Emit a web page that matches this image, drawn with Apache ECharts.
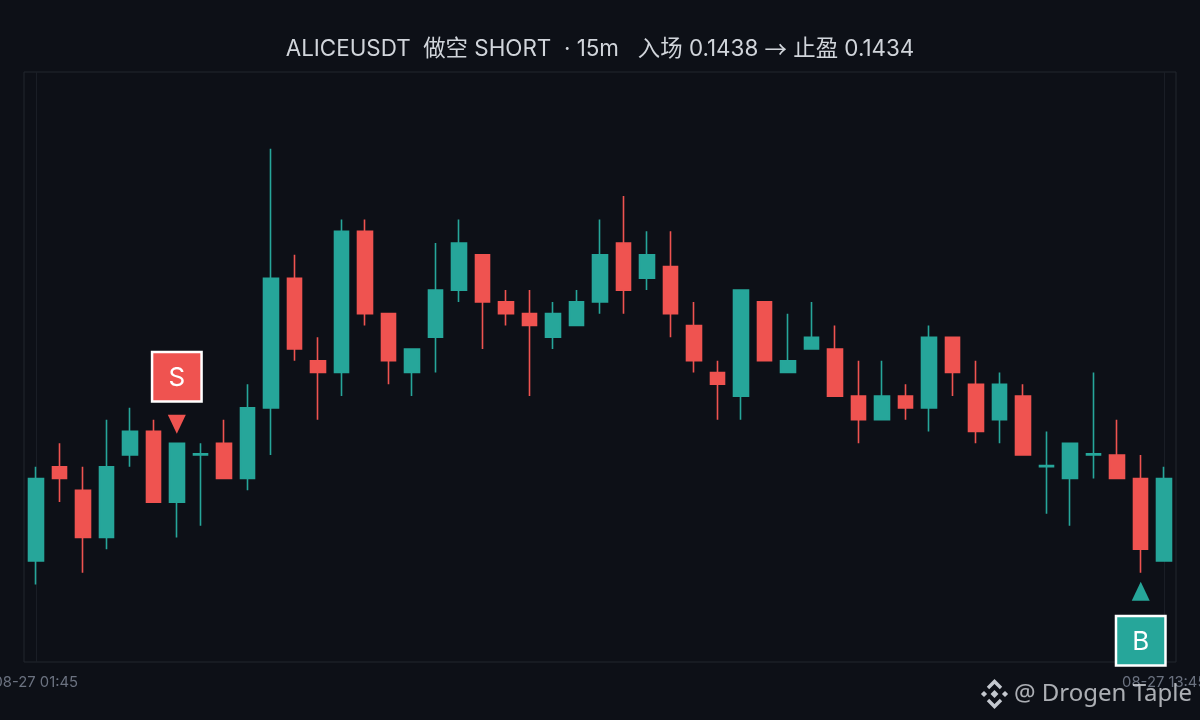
<!DOCTYPE html>
<html><head><meta charset="utf-8">
<style>html,body{margin:0;padding:0;background:#0d1017}#c{width:1200px;height:720px}</style>
<script src="https://cdn.jsdelivr.net/npm/echarts@6/dist/echarts.min.js"></script>
</head><body><div id="c"></div>
<script>
const TITLE = 'ALICEUSDT  做空 SHORT  · 15m   入场 0.1438 {cjk|→} 止盈 0.1434';
const times = ['08-27 01:45','08-27 02:00','08-27 02:15','08-27 02:30','08-27 02:45','08-27 03:00','08-27 03:15','08-27 03:30','08-27 03:45','08-27 04:00','08-27 04:15','08-27 04:30','08-27 04:45','08-27 05:00','08-27 05:15','08-27 05:30','08-27 05:45','08-27 06:00','08-27 06:15','08-27 06:30','08-27 06:45','08-27 07:00','08-27 07:15','08-27 07:30','08-27 07:45','08-27 08:00','08-27 08:15','08-27 08:30','08-27 08:45','08-27 09:00','08-27 09:15','08-27 09:30','08-27 09:45','08-27 10:00','08-27 10:15','08-27 10:30','08-27 10:45','08-27 11:00','08-27 11:15','08-27 11:30','08-27 11:45','08-27 12:00','08-27 12:15','08-27 12:30','08-27 12:45','08-27 13:00','08-27 13:15','08-27 13:30','08-27 13:45'];
const open  = [.1433,.1441,.1439,.1435,.1442,.1444,.1438,.1442,.1443,.1440,.1446,.1457,.1450,.1449,.1461,.1454,.1449,.1452,.1456,.1459,.1455,.1454,.1452,.1453,.1455,.1460,.1457,.1458,.1453,.1449,.1447,.1455,.1449,.1451,.1451,.1447,.1445,.1447,.1446,.1452,.1448,.1445,.1447,.1441,.1440,.1442,.1442,.1440,.1433];
const close = [.1440,.1440,.1435,.1441,.1444,.1438,.1443,.14421,.1440,.1446,.1457,.1451,.1449,.1461,.1454,.1450,.1451,.1456,.1460,.1455,.1454,.1453,.1454,.1455,.1459,.1456,.1459,.1454,.1450,.1448,.1456,.1450,.1450,.1452,.1447,.1445,.1447,.1446,.1452,.1449,.1444,.1448,.1442,.14411,.1443,.14421,.1440,.1434,.1440];
const high  = [.1441,.1443,.1441,.1445,.1446,.1445,.1443,.1443,.1445,.1448,.1468,.1459,.1452,.1462,.1462,.1454,.1451,.1460,.1462,.1459,.1456,.1456,.1455,.1456,.1462,.1464,.1461,.1461,.1455,.1450,.1456,.1455,.1454,.1455,.1453,.1450,.1450,.1448,.1453,.1452,.1450,.1449,.1448,.1444,.1443,.1449,.1445,.1442,.1441];
const low   = [.1431,.1438,.1432,.1434,.1441,.1438,.1435,.1436,.1440,.1439,.1442,.1450,.1445,.1447,.1453,.1448,.1447,.1449,.1455,.1451,.1453,.1447,.1451,.1453,.1454,.1454,.1456,.1452,.1449,.1445,.1445,.1450,.1449,.1451,.1447,.1443,.1445,.1445,.1444,.1447,.1443,.1443,.1442,.1437,.1436,.1440,.1440,.1432,.1433];
const SIGNAL_S = 6, SIGNAL_B = 47;
const UP = '#26a69a', DOWN = '#ef5350';

const chart = echarts.init(document.getElementById('c'), null, {renderer:'canvas'});
const FONT = 'Inter, "Noto Sans CJK SC", sans-serif';
chart.setOption({
  animation:false,
  backgroundColor:'#0d1017',
  textStyle:{fontFamily:FONT},
  title:{text:TITLE,left:'center',top:29,textStyle:{color:'#d1d5db',fontSize:22.4,fontWeight:'normal',fontFamily:FONT,lineHeight:30,
    rich:{cjk:{color:'#d1d5db',fontSize:22.4,fontFamily:'"Noto Sans CJK SC"',lineHeight:30}}}},
  grid:{left:24,right:24,top:72,bottom:58,show:true,outerBoundsMode:'none',containLabel:false,borderColor:'#22262e',borderWidth:1,backgroundColor:'transparent'},
  xAxis:{type:'category',data:times,boundaryGap:true,
    axisLine:{show:false},axisTick:{show:false},
    axisLabel:{interval:47,color:'#6b7280',fontSize:14.8,margin:13,hideOverlap:false,fontFamily:FONT},
    splitLine:{show:true,interval:47,alignWithLabel:true,lineStyle:{color:'#1a1e26',width:1}}},
  yAxis:{type:'value',min:0.142442,max:0.147452,scale:true,show:false,splitLine:{show:false}},
  series:[{
    type:'candlestick',
    barWidth:15,
    clip:false,
    data:times.map((_,i)=>[open[i],close[i],low[i],high[i]]),
    itemStyle:{color:UP,color0:DOWN,borderColor:UP,borderColor0:DOWN,borderColorDoji:UP,borderWidth:1.6},
    markPoint:{
      silent:true,
      z:10,
      data:[
        {coord:[times[SIGNAL_S],high[SIGNAL_S]],symbol:'triangle',symbolRotate:180,symbolSize:[18,19],symbolOffset:[0,-19],
          itemStyle:{color:DOWN},label:{show:false}},
        {coord:[times[SIGNAL_S],high[SIGNAL_S]],symbol:'rect',symbolSize:[49.5,49.5],symbolOffset:[0,-66.5],
          itemStyle:{color:DOWN,borderColor:'#ffffff',borderWidth:2.5},
          label:{show:true,formatter:'S',color:'#fff',fontSize:26,position:'inside',offset:[0,1],fontFamily:FONT}},
        {coord:[times[SIGNAL_B],low[SIGNAL_B]],symbol:'triangle',symbolSize:[18,19],symbolOffset:[0,18.5],
          itemStyle:{color:UP},label:{show:false}},
        {coord:[times[SIGNAL_B],low[SIGNAL_B]],symbol:'rect',symbolSize:[49.5,49.5],symbolOffset:[0,68],
          itemStyle:{color:UP,borderColor:'#ffffff',borderWidth:2.5},
          label:{show:true,formatter:'B',color:'#fff',fontSize:26,position:'inside',offset:[0,1],fontFamily:FONT}}
      ]
    }
  }],
  graphic:[
    {type:'group',x:994.5,y:694,z:100,silent:true,children:[
      {type:'rect',rotation:Math.PI/4,shape:{x:-2.8,y:-2.8,width:5.6,height:5.6},style:{fill:'#c4c8cf'}},
      {type:'rect',x:-10.5,rotation:Math.PI/4,shape:{x:-2.2,y:-2.2,width:4.4,height:4.4},style:{fill:'#c4c8cf'}},
      {type:'rect',x:10.5,rotation:Math.PI/4,shape:{x:-2.2,y:-2.2,width:4.4,height:4.4},style:{fill:'#c4c8cf'}},
      {type:'polyline',shape:{points:[[-6.5,-6],[0,-12.5],[6.5,-6]]},style:{stroke:'#c4c8cf',lineWidth:3.4,fill:null}},
      {type:'polyline',shape:{points:[[-6.5,6],[0,12.5],[6.5,6]]},style:{stroke:'#c4c8cf',lineWidth:3.4,fill:null}}
    ]},
    {type:'text',x:1014,y:694,z:100,silent:true,style:{text:'@ Drogen Taple',fill:'rgba(225,228,234,0.75)',font:'24px "Noto Sans", sans-serif',verticalAlign:'middle'}}
  ]
});
</script></body></html>
